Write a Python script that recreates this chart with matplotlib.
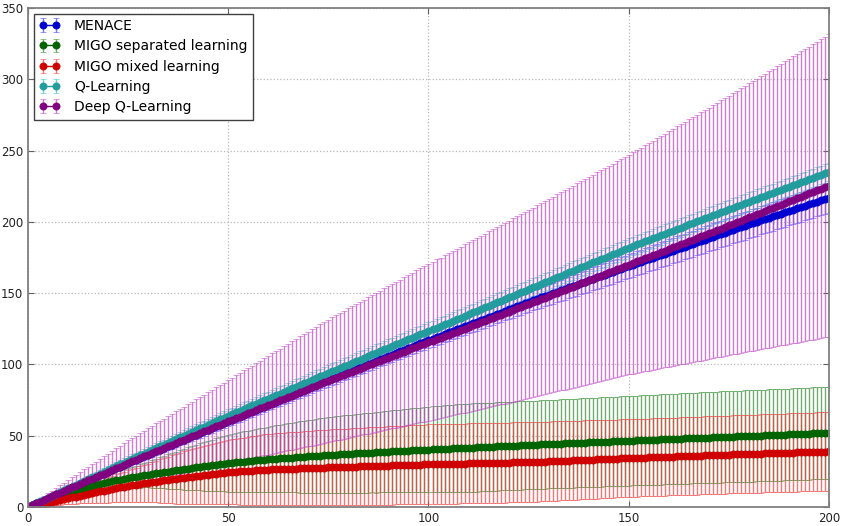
import matplotlib
matplotlib.use("Agg")
import matplotlib.pyplot as plt
from matplotlib.colors import to_rgba

games = list(range(0, 201))

menace_mean = [
    0.0, 1.2, 2.5, 3.8, 5.0, 6.2, 7.5, 8.8, 10.0, 11.2,
    12.5, 13.7, 14.9, 16.2, 17.4, 18.6, 19.8, 21.0, 22.3, 23.5,
    24.7, 25.9, 27.1, 28.4, 29.6, 30.8, 32.0, 33.1, 34.3, 35.5,
    36.6, 37.8, 39.0, 40.1, 41.3, 42.5, 43.6, 44.8, 46.0, 47.1,
    48.3, 49.5, 50.7, 51.8, 53.0, 54.2, 55.3, 56.5, 57.7, 58.8,
    60.0, 61.2, 62.3, 63.5, 64.6, 65.8, 67.0, 68.1, 69.3, 70.4,
    71.6, 72.8, 73.9, 75.1, 76.2, 77.4, 78.6, 79.7, 80.9, 82.0,
    83.2, 84.4, 85.5, 86.7, 87.8, 89.0, 90.1, 91.2, 92.4, 93.5,
    94.6, 95.7, 96.8, 98.0, 99.1, 100.2, 101.3, 102.4, 103.6, 104.7,
    105.8, 106.9, 108.0, 109.2, 110.3, 111.4, 112.5, 113.6, 114.8, 115.9,
    117.0, 118.1, 119.2, 120.2, 121.3, 122.4, 123.5, 124.6, 125.6, 126.7,
    127.8, 128.9, 130.0, 131.0, 132.1, 133.2, 134.3, 135.4, 136.4, 137.5,
    138.6, 139.7, 140.8, 141.8, 142.9, 144.0, 145.0, 146.0, 147.0, 148.0,
    149.0, 150.0, 151.0, 152.0, 153.0, 154.0, 155.0, 156.0, 157.0, 158.0,
    159.0, 160.0, 161.0, 162.0, 163.0, 164.0, 165.0, 166.0, 167.0, 168.0,
    169.0, 170.0, 171.0, 171.9, 172.9, 173.9, 174.9, 175.9, 176.8, 177.8,
    178.8, 179.8, 180.8, 181.7, 182.7, 183.7, 184.7, 185.7, 186.6, 187.6,
    188.6, 189.6, 190.6, 191.5, 192.5, 193.5, 194.4, 195.4, 196.3, 197.3,
    198.2, 199.1, 200.1, 201.0, 202.0, 202.9, 203.8, 204.8, 205.7, 206.7,
    207.6, 208.5, 209.5, 210.4, 211.4, 212.3, 213.2, 214.2, 215.1, 216.1,
    217.0,
]
menace_std = [
    0.0, 0.1, 0.2, 0.3, 0.4, 0.5, 0.6, 0.7, 0.8, 0.9,
    1.0, 1.1, 1.1, 1.2, 1.3, 1.3, 1.4, 1.5, 1.5, 1.6,
    1.7, 1.7, 1.8, 1.9, 1.9, 2.0, 2.1, 2.1, 2.2, 2.2,
    2.3, 2.4, 2.4, 2.5, 2.5, 2.6, 2.7, 2.7, 2.8, 2.8,
    2.9, 3.0, 3.0, 3.1, 3.1, 3.2, 3.3, 3.3, 3.4, 3.4,
    3.5, 3.5, 3.6, 3.6, 3.7, 3.7, 3.7, 3.8, 3.8, 3.9,
    3.9, 3.9, 4.0, 4.0, 4.1, 4.1, 4.1, 4.2, 4.2, 4.3,
    4.3, 4.3, 4.4, 4.4, 4.5, 4.5, 4.5, 4.6, 4.6, 4.7,
    4.7, 4.7, 4.8, 4.8, 4.9, 4.9, 4.9, 5.0, 5.0, 5.1,
    5.1, 5.1, 5.2, 5.2, 5.3, 5.3, 5.3, 5.4, 5.4, 5.5,
    5.5, 5.6, 5.6, 5.7, 5.7, 5.8, 5.9, 5.9, 6.0, 6.0,
    6.1, 6.2, 6.2, 6.3, 6.3, 6.4, 6.5, 6.5, 6.6, 6.6,
    6.7, 6.8, 6.8, 6.9, 6.9, 7.0, 7.1, 7.1, 7.2, 7.2,
    7.3, 7.4, 7.4, 7.5, 7.5, 7.6, 7.7, 7.7, 7.8, 7.8,
    7.9, 8.0, 8.0, 8.1, 8.1, 8.2, 8.3, 8.3, 8.4, 8.4,
    8.5, 8.5, 8.6, 8.6, 8.7, 8.7, 8.7, 8.8, 8.8, 8.9,
    8.9, 8.9, 9.0, 9.0, 9.1, 9.1, 9.1, 9.2, 9.2, 9.3,
    9.3, 9.3, 9.4, 9.4, 9.5, 9.5, 9.5, 9.6, 9.6, 9.7,
    9.7, 9.7, 9.8, 9.8, 9.9, 9.9, 9.9, 10.0, 10.0, 10.1,
    10.1, 10.1, 10.2, 10.2, 10.3, 10.3, 10.3, 10.4, 10.4, 10.5,
    10.5,
]

migo_sep_mean = [
    0.0, 1.1, 2.2, 3.3, 4.4, 5.5, 6.4, 7.3, 8.2, 9.1,
    10.0, 10.8, 11.6, 12.4, 13.2, 14.0, 14.7, 15.4, 16.1, 16.8,
    17.5, 18.0, 18.6, 19.1, 19.7, 20.2, 20.7, 21.2, 21.8, 22.3,
    22.8, 23.2, 23.6, 24.1, 24.5, 24.9, 25.3, 25.7, 26.2, 26.6,
    27.0, 27.4, 27.8, 28.1, 28.5, 28.9, 29.3, 29.7, 30.0, 30.4,
    30.8, 31.1, 31.3, 31.6, 31.9, 32.2, 32.4, 32.7, 33.0, 33.2,
    33.5, 33.7, 33.9, 34.1, 34.3, 34.5, 34.7, 34.9, 35.1, 35.3,
    35.5, 35.7, 35.9, 36.1, 36.3, 36.5, 36.7, 36.8, 37.0, 37.1,
    37.3, 37.4, 37.6, 37.7, 37.9, 38.0, 38.2, 38.3, 38.5, 38.7,
    38.8, 39.0, 39.1, 39.3, 39.4, 39.6, 39.7, 39.9, 40.0, 40.2,
    40.3, 40.4, 40.6, 40.7, 40.8, 40.9, 41.1, 41.2, 41.3, 41.5,
    41.6, 41.7, 41.8, 42.0, 42.1, 42.2, 42.3, 42.5, 42.6, 42.7,
    42.9, 43.0, 43.1, 43.2, 43.4, 43.5, 43.6, 43.7, 43.9, 44.0,
    44.1, 44.2, 44.3, 44.5, 44.6, 44.7, 44.8, 44.9, 45.1, 45.2,
    45.3, 45.4, 45.5, 45.7, 45.8, 45.9, 46.0, 46.1, 46.3, 46.4,
    46.5, 46.6, 46.7, 46.8, 47.0, 47.1, 47.2, 47.3, 47.4, 47.5,
    47.6, 47.7, 47.8, 48.0, 48.1, 48.2, 48.3, 48.4, 48.5, 48.6,
    48.7, 48.8, 49.0, 49.1, 49.2, 49.3, 49.4, 49.5, 49.6, 49.7,
    49.8, 49.9, 50.0, 50.1, 50.2, 50.4, 50.5, 50.6, 50.7, 50.8,
    50.9, 51.0, 51.1, 51.2, 51.3, 51.5, 51.6, 51.7, 51.8, 51.9,
    52.0,
]
migo_sep_std = [
    0.0, 0.4, 0.7, 1.1, 1.4, 1.8, 2.1, 2.5, 2.8, 3.2,
    3.5, 3.8, 4.0, 4.3, 4.5, 4.8, 5.0, 5.3, 5.5, 5.8,
    6.0, 6.2, 6.5, 6.7, 7.0, 7.2, 7.6, 7.9, 8.3, 8.6,
    9.0, 9.6, 10.2, 10.8, 11.4, 12.0, 12.6, 13.2, 13.8, 14.4,
    15.0, 15.5, 16.0, 16.5, 17.0, 17.5, 18.0, 18.5, 19.0, 19.5,
    20.0, 20.3, 20.6, 20.8, 21.1, 21.4, 21.7, 21.9, 22.2, 22.5,
    22.8, 23.1, 23.3, 23.6, 23.9, 24.2, 24.4, 24.7, 25.0, 25.2,
    25.4, 25.6, 25.9, 26.1, 26.3, 26.5, 26.6, 26.8, 26.9, 27.1,
    27.2, 27.3, 27.5, 27.6, 27.8, 27.9, 28.0, 28.2, 28.3, 28.5,
    28.6, 28.7, 28.9, 29.0, 29.2, 29.3, 29.4, 29.6, 29.7, 29.9,
    30.0, 30.1, 30.2, 30.3, 30.4, 30.5, 30.6, 30.7, 30.8, 30.9,
    31.0, 31.0, 31.0, 31.0, 31.0, 31.0, 31.0, 31.0, 31.0, 31.0,
    31.0, 31.0, 31.0, 31.0, 31.0, 31.0, 31.0, 31.0, 31.1, 31.1,
    31.1, 31.1, 31.1, 31.2, 31.2, 31.2, 31.2, 31.2, 31.3, 31.3,
    31.3, 31.3, 31.3, 31.4, 31.4, 31.4, 31.4, 31.4, 31.5, 31.5,
    31.5, 31.5, 31.5, 31.6, 31.6, 31.6, 31.6, 31.6, 31.7, 31.7,
    31.7, 31.7, 31.7, 31.8, 31.8, 31.8, 31.8, 31.8, 31.9, 31.9,
    31.9, 31.9, 31.9, 32.0, 32.0, 32.0, 32.0, 32.0, 32.0, 32.1,
    32.1, 32.1, 32.1, 32.1, 32.1, 32.2, 32.2, 32.2, 32.2, 32.2,
    32.2, 32.2, 32.3, 32.3, 32.3, 32.3, 32.3, 32.3, 32.3, 32.4,
    32.4,
]

migo_mix_mean = [
    0.0, 0.6, 1.2, 1.8, 2.4, 3.0, 3.6, 4.2, 4.8, 5.4,
    6.0, 6.7, 7.3, 8.0, 8.6, 9.3, 9.8, 10.4, 10.9, 11.5,
    12.0, 12.6, 13.1, 13.7, 14.2, 14.8, 15.2, 15.7, 16.1, 16.6,
    17.0, 17.4, 17.8, 18.2, 18.6, 19.0, 19.4, 19.8, 20.2, 20.6,
    21.0, 21.4, 21.7, 22.1, 22.4, 22.8, 23.1, 23.5, 23.8, 24.2,
    24.5, 24.7, 24.9, 25.0, 25.2, 25.4, 25.6, 25.8, 25.9, 26.1,
    26.3, 26.4, 26.5, 26.6, 26.7, 26.8, 26.9, 27.0, 27.1, 27.2,
    27.3, 27.4, 27.5, 27.6, 27.7, 27.8, 27.9, 28.0, 28.1, 28.2,
    28.2, 28.3, 28.4, 28.5, 28.6, 28.7, 28.8, 28.9, 29.0, 29.0,
    29.1, 29.2, 29.3, 29.4, 29.5, 29.6, 29.6, 29.7, 29.8, 29.9,
    30.0, 30.1, 30.1, 30.2, 30.2, 30.3, 30.4, 30.4, 30.5, 30.5,
    30.6, 30.7, 30.7, 30.8, 30.8, 30.9, 31.0, 31.0, 31.1, 31.1,
    31.2, 31.3, 31.3, 31.4, 31.4, 31.5, 31.6, 31.7, 31.8, 31.9,
    32.1, 32.2, 32.3, 32.4, 32.5, 32.6, 32.7, 32.8, 33.0, 33.1,
    33.2, 33.3, 33.4, 33.5, 33.6, 33.7, 33.9, 34.0, 34.1, 34.2,
    34.3, 34.4, 34.5, 34.6, 34.7, 34.8, 34.9, 35.0, 35.1, 35.2,
    35.3, 35.4, 35.5, 35.6, 35.7, 35.8, 35.9, 36.0, 36.1, 36.2,
    36.3, 36.4, 36.5, 36.6, 36.7, 36.8, 36.9, 37.0, 37.1, 37.2,
    37.2, 37.3, 37.4, 37.5, 37.6, 37.7, 37.8, 37.9, 38.0, 38.0,
    38.1, 38.2, 38.3, 38.4, 38.5, 38.6, 38.6, 38.7, 38.8, 38.9,
    39.0,
]
migo_mix_std = [
    0.0, 0.4, 0.8, 1.2, 1.6, 2.0, 2.4, 2.8, 3.2, 3.6,
    4.0, 4.5, 5.0, 5.5, 6.0, 6.5, 7.0, 7.5, 8.0, 8.5,
    9.0, 9.4, 9.8, 10.2, 10.6, 11.0, 11.5, 12.0, 12.5, 13.0,
    13.5, 14.1, 14.6, 15.2, 15.7, 16.3, 16.8, 17.4, 17.9, 18.5,
    19.0, 19.4, 19.7, 20.1, 20.4, 20.8, 21.1, 21.5, 21.8, 22.2,
    22.5, 22.8, 23.0, 23.3, 23.5, 23.8, 24.0, 24.3, 24.5, 24.8,
    25.0, 25.1, 25.2, 25.3, 25.4, 25.5, 25.6, 25.7, 25.8, 25.9,
    26.0, 26.1, 26.2, 26.3, 26.4, 26.5, 26.6, 26.6, 26.7, 26.7,
    26.8, 26.9, 26.9, 27.0, 27.0, 27.1, 27.2, 27.2, 27.3, 27.3,
    27.4, 27.5, 27.5, 27.6, 27.6, 27.7, 27.8, 27.8, 27.9, 27.9,
    28.0, 28.0, 28.0, 28.0, 28.0, 28.0, 28.0, 28.0, 28.0, 28.0,
    28.0, 28.0, 28.0, 28.0, 28.0, 28.0, 28.0, 28.0, 28.0, 28.0,
    28.0, 28.0, 28.0, 28.0, 28.0, 28.0, 28.0, 27.9, 27.9, 27.9,
    27.8, 27.8, 27.8, 27.7, 27.7, 27.7, 27.6, 27.6, 27.6, 27.6,
    27.5, 27.5, 27.5, 27.4, 27.4, 27.4, 27.3, 27.3, 27.3, 27.2,
    27.2, 27.2, 27.2, 27.2, 27.2, 27.2, 27.2, 27.2, 27.2, 27.2,
    27.2, 27.2, 27.2, 27.3, 27.3, 27.3, 27.3, 27.3, 27.3, 27.3,
    27.3, 27.3, 27.3, 27.3, 27.3, 27.3, 27.3, 27.3, 27.3, 27.3,
    27.4, 27.4, 27.4, 27.4, 27.4, 27.4, 27.4, 27.4, 27.5, 27.5,
    27.5, 27.5, 27.5, 27.5, 27.5, 27.5, 27.6, 27.6, 27.6, 27.6,
    27.6,
]

qlearn_mean = [
    0.0, 1.3, 2.6, 3.9, 5.2, 6.5, 7.8, 9.1, 10.4, 11.7,
    13.0, 14.3, 15.6, 16.9, 18.2, 19.5, 20.8, 22.1, 23.4, 24.7,
    26.0, 27.3, 28.6, 29.9, 31.2, 32.5, 33.8, 35.0, 36.3, 37.5,
    38.8, 40.1, 41.3, 42.6, 43.8, 45.1, 46.4, 47.6, 48.9, 50.1,
    51.4, 52.7, 53.9, 55.2, 56.4, 57.7, 59.0, 60.2, 61.5, 62.7,
    64.0, 65.2, 66.4, 67.6, 68.8, 70.0, 71.2, 72.4, 73.6, 74.8,
    76.0, 77.2, 78.4, 79.6, 80.8, 82.0, 83.2, 84.4, 85.6, 86.8,
    88.0, 89.2, 90.4, 91.6, 92.8, 94.0, 95.2, 96.4, 97.5, 98.7,
    99.9, 101.1, 102.3, 103.4, 104.6, 105.8, 107.0, 108.2, 109.3, 110.5,
    111.7, 112.9, 114.1, 115.2, 116.4, 117.6, 118.8, 120.0, 121.1, 122.3,
    123.5, 124.7, 125.9, 127.0, 128.2, 129.4, 130.6, 131.8, 132.9, 134.1,
    135.3, 136.5, 137.7, 138.8, 140.0, 141.2, 142.4, 143.6, 144.7, 145.9,
    147.1, 148.3, 149.5, 150.6, 151.8, 153.0, 154.2, 155.3, 156.5, 157.6,
    158.8, 160.0, 161.1, 162.3, 163.4, 164.6, 165.8, 166.9, 168.1, 169.2,
    170.4, 171.6, 172.7, 173.9, 175.0, 176.2, 177.4, 178.5, 179.7, 180.8,
    182.0, 183.1, 184.2, 185.2, 186.3, 187.4, 188.5, 189.6, 190.6, 191.7,
    192.8, 193.9, 195.0, 196.0, 197.1, 198.2, 199.3, 200.4, 201.4, 202.5,
    203.6, 204.7, 205.8, 206.8, 207.9, 209.0, 210.0, 211.1, 212.1, 213.2,
    214.2, 215.2, 216.3, 217.3, 218.4, 219.4, 220.4, 221.5, 222.5, 223.6,
    224.6, 225.6, 226.7, 227.7, 228.8, 229.8, 230.8, 231.9, 232.9, 234.0,
    235.0,
]
qlearn_std = [
    0.0, 0.2, 0.3, 0.5, 0.6, 0.8, 0.9, 1.1, 1.2, 1.4,
    1.5, 1.6, 1.7, 1.8, 1.9, 2.0, 2.1, 2.2, 2.3, 2.4,
    2.5, 2.6, 2.7, 2.8, 2.9, 3.0, 3.1, 3.1, 3.2, 3.2,
    3.3, 3.4, 3.4, 3.5, 3.5, 3.6, 3.7, 3.7, 3.8, 3.8,
    3.9, 4.0, 4.0, 4.1, 4.1, 4.2, 4.3, 4.3, 4.4, 4.4,
    4.5, 4.5, 4.6, 4.6, 4.7, 4.7, 4.7, 4.8, 4.8, 4.9,
    4.9, 4.9, 5.0, 5.0, 5.1, 5.1, 5.1, 5.2, 5.2, 5.3,
    5.3, 5.3, 5.4, 5.4, 5.5, 5.5, 5.5, 5.5, 5.6, 5.6,
    5.6, 5.6, 5.6, 5.7, 5.7, 5.7, 5.7, 5.8, 5.8, 5.8,
    5.8, 5.8, 5.9, 5.9, 5.9, 5.9, 5.9, 6.0, 6.0, 6.0,
    6.0, 6.0, 6.0, 6.0, 6.0, 6.1, 6.1, 6.1, 6.1, 6.1,
    6.1, 6.1, 6.1, 6.1, 6.1, 6.2, 6.2, 6.2, 6.2, 6.2,
    6.2, 6.2, 6.2, 6.2, 6.2, 6.3, 6.3, 6.3, 6.3, 6.3,
    6.3, 6.3, 6.3, 6.3, 6.3, 6.4, 6.4, 6.4, 6.4, 6.4,
    6.4, 6.4, 6.4, 6.4, 6.4, 6.5, 6.5, 6.5, 6.5, 6.5,
    6.5, 6.5, 6.5, 6.5, 6.5, 6.5, 6.5, 6.5, 6.5, 6.5,
    6.5, 6.5, 6.5, 6.5, 6.5, 6.5, 6.5, 6.5, 6.5, 6.5,
    6.5, 6.5, 6.5, 6.5, 6.5, 6.5, 6.5, 6.5, 6.5, 6.5,
    6.5, 6.5, 6.5, 6.5, 6.5, 6.5, 6.5, 6.5, 6.5, 6.5,
    6.5, 6.5, 6.5, 6.5, 6.5, 6.5, 6.5, 6.5, 6.5, 6.5,
    6.5,
]

dqn_mean = [
    0.0, 1.2, 2.5, 3.8, 5.0, 6.2, 7.5, 8.8, 10.0, 11.2,
    12.5, 13.7, 14.9, 16.2, 17.4, 18.6, 19.8, 21.0, 22.3, 23.5,
    24.7, 25.9, 27.1, 28.4, 29.6, 30.8, 32.0, 33.1, 34.3, 35.5,
    36.6, 37.8, 39.0, 40.1, 41.3, 42.5, 43.6, 44.8, 46.0, 47.1,
    48.3, 49.5, 50.7, 51.8, 53.0, 54.2, 55.3, 56.5, 57.7, 58.8,
    60.0, 61.1, 62.3, 63.4, 64.6, 65.7, 66.8, 68.0, 69.1, 70.3,
    71.4, 72.5, 73.7, 74.8, 76.0, 77.1, 78.2, 79.4, 80.5, 81.7,
    82.8, 83.9, 85.1, 86.2, 87.4, 88.5, 89.6, 90.7, 91.7, 92.8,
    93.9, 95.0, 96.1, 97.1, 98.2, 99.3, 100.4, 101.5, 102.5, 103.6,
    104.7, 105.8, 106.9, 107.9, 109.0, 110.1, 111.2, 112.3, 113.3, 114.4,
    115.5, 116.6, 117.7, 118.7, 119.8, 120.9, 122.0, 123.1, 124.1, 125.2,
    126.3, 127.4, 128.5, 129.5, 130.6, 131.7, 132.8, 133.9, 134.9, 136.0,
    137.1, 138.2, 139.3, 140.3, 141.4, 142.5, 143.6, 144.7, 145.8, 146.9,
    148.0, 149.1, 150.2, 151.3, 152.4, 153.5, 154.6, 155.7, 156.8, 157.9,
    159.0, 160.1, 161.2, 162.3, 163.4, 164.5, 165.6, 166.7, 167.8, 168.9,
    170.0, 171.1, 172.2, 173.3, 174.4, 175.5, 176.6, 177.7, 178.8, 179.9,
    181.0, 182.1, 183.2, 184.3, 185.4, 186.5, 187.6, 188.7, 189.8, 190.9,
    192.0, 193.1, 194.2, 195.3, 196.4, 197.5, 198.6, 199.7, 200.9, 202.0,
    203.1, 204.2, 205.3, 206.5, 207.6, 208.7, 209.8, 210.9, 212.1, 213.2,
    214.3, 215.4, 216.5, 217.7, 218.8, 219.9, 221.0, 222.1, 223.3, 224.4,
    225.5,
]
dqn_std = [
    0.0, 0.7, 1.3, 2.0, 2.6, 3.3, 3.9, 4.6, 5.2, 5.9,
    6.5, 7.1, 7.8, 8.4, 9.0, 9.7, 10.3, 10.9, 11.6, 12.2,
    12.8, 13.5, 14.1, 14.7, 15.4, 16.0, 16.5, 17.0, 17.6, 18.1,
    18.6, 19.1, 19.6, 20.2, 20.7, 21.2, 21.7, 22.2, 22.8, 23.3,
    23.8, 24.3, 24.8, 25.4, 25.9, 26.4, 26.9, 27.4, 28.0, 28.5,
    29.0, 29.6, 30.1, 30.7, 31.2, 31.8, 32.4, 32.9, 33.5, 34.0,
    34.6, 35.2, 35.7, 36.3, 36.8, 37.4, 38.0, 38.5, 39.1, 39.6,
    40.2, 40.8, 41.3, 41.9, 42.4, 43.0, 43.5, 44.0, 44.4, 44.9,
    45.4, 45.9, 46.4, 46.8, 47.3, 47.8, 48.3, 48.8, 49.2, 49.7,
    50.2, 50.7, 51.2, 51.6, 52.1, 52.6, 53.1, 53.6, 54.0, 54.5,
    55.0, 55.4, 55.9, 56.3, 56.8, 57.2, 57.6, 58.1, 58.5, 59.0,
    59.4, 59.8, 60.3, 60.7, 61.2, 61.6, 62.0, 62.5, 62.9, 63.4,
    63.8, 64.2, 64.7, 65.1, 65.6, 66.0, 66.4, 66.9, 67.3, 67.8,
    68.2, 68.6, 69.1, 69.5, 70.0, 70.4, 70.8, 71.3, 71.7, 72.2,
    72.6, 73.0, 73.5, 73.9, 74.4, 74.8, 75.2, 75.7, 76.1, 76.6,
    77.0, 77.6, 78.1, 78.7, 79.2, 79.8, 80.4, 80.9, 81.5, 82.0,
    82.6, 83.2, 83.7, 84.3, 84.8, 85.4, 86.0, 86.5, 87.1, 87.6,
    88.2, 88.8, 89.3, 89.9, 90.4, 91.0, 91.6, 92.2, 92.8, 93.4,
    94.0, 94.6, 95.2, 95.8, 96.4, 97.0, 97.6, 98.2, 98.8, 99.4,
    100.0, 100.6, 101.2, 101.8, 102.4, 103.0, 103.6, 104.2, 104.8, 105.4,
    106.0,
]

labels = ["MENACE", "MIGO separated learning", "MIGO mixed learning",
          "Q-Learning", "Deep Q-Learning"]
means = [menace_mean, migo_sep_mean, migo_mix_mean, qlearn_mean, dqn_mean]
stds = [menace_std, migo_sep_std, migo_mix_std, qlearn_std, dqn_std]
colors = ["#0000d0", "#006400", "#d00000", "#229c9c", "#800080"]
ecolors = ["#3a3aff", "#2e8b2e", "#f03a3a", "#30c0c0", "#c040c8"]

fig = plt.figure(figsize=(8.46, 5.26), dpi=100)
ax = fig.add_axes([0.0331, 0.0361, 0.9468, 0.9487])

for lab, m, s, c, ec in zip(labels, means, stds, colors, ecolors):
    ax.errorbar(games, m, yerr=s, fmt='-o', color=c, ecolor=to_rgba(ec, 0.7),
                markersize=5.2, markeredgecolor=c, markeredgewidth=0.5,
                linewidth=1, elinewidth=1.0, capsize=2.0, capthick=1.0,
                label=lab)

ax.set_xlim(0, 200)
ax.set_ylim(0, 350)
ax.set_xticks([0, 50, 100, 150, 200])
ax.set_yticks([0, 50, 100, 150, 200, 250, 300, 350])
ax.grid(True, color='#b8b8b8', linestyle=':', linewidth=0.9)
ax.tick_params(direction='in', length=4, width=0.8, color='#606060',
               labelsize=8.5, top=True, right=True, labelcolor='#222222')
for sp in ax.spines.values():
    sp.set_color('#808080')
    sp.set_linewidth(1.3)

leg = ax.legend(loc='upper left', numpoints=2, fontsize=10, fancybox=False,
                handlelength=1.5, handletextpad=1.0, labelspacing=0.45,
                borderaxespad=0.4, borderpad=0.4)
leg.get_frame().set_edgecolor('#404040')
leg.get_frame().set_linewidth(1.0)
leg.get_frame().set_alpha(1.0)

fig.savefig("out.png", dpi=100)
